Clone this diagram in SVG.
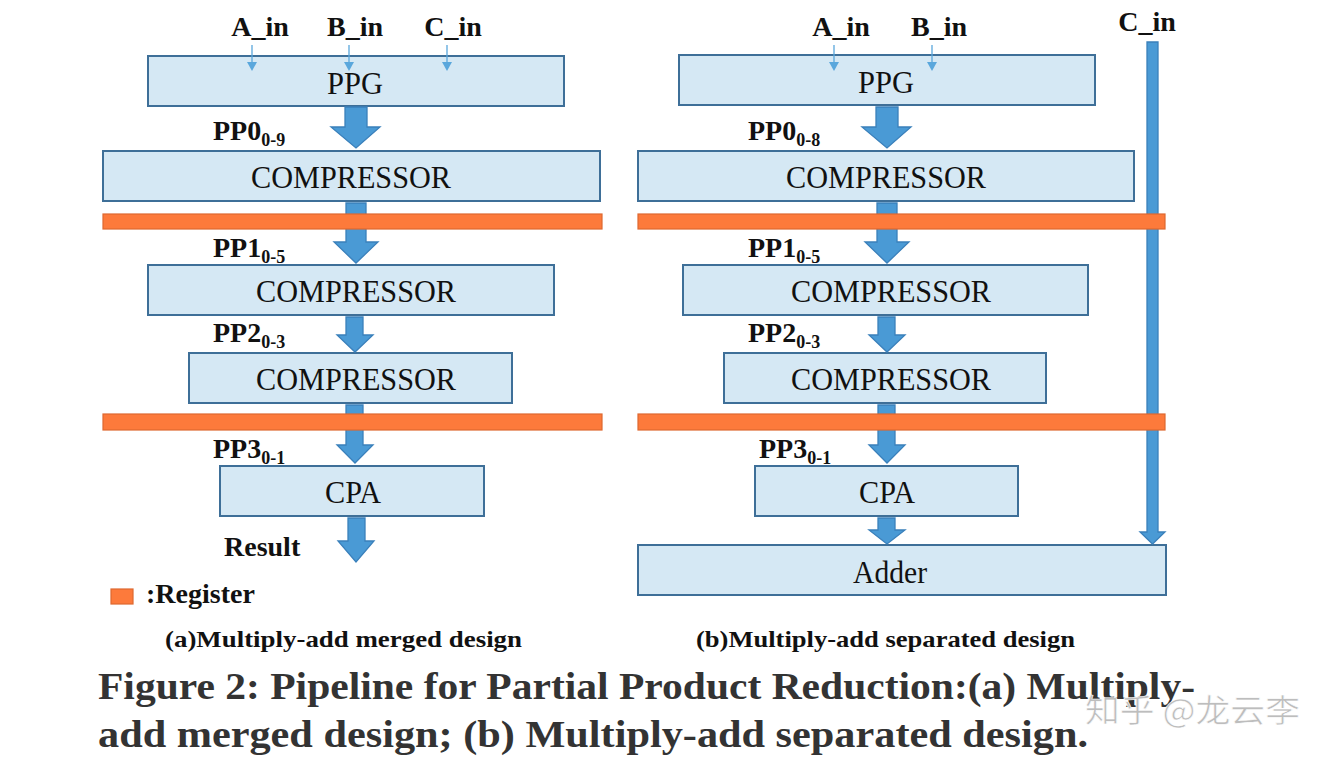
<svg xmlns="http://www.w3.org/2000/svg" width="1334" height="765" viewBox="0 0 1334 765">
<style>
.box{fill:#d5e8f4;stroke:#3e6f98;stroke-width:2}
.reg{fill:#fd7a3b;stroke:#de6830;stroke-width:1.2}
.arr{fill:#4a9ad5;stroke:#3a80bb;stroke-width:1.3}
.thin{stroke:#5aa7dc;stroke-width:1.3;fill:none}
.th{fill:#5aa7dc}
.lbl{font-family:"Liberation Serif","DejaVu Serif",serif;font-weight:bold;font-size:28px;fill:#111}
.in{font-family:"Liberation Serif","DejaVu Serif",serif;font-weight:bold;font-size:28px;fill:#111;text-anchor:middle}
.bt{font-family:"Liberation Serif","Times New Roman",serif;font-size:31px;fill:#111;text-anchor:middle}
.cap{font-family:"Liberation Serif","DejaVu Serif",serif;font-weight:bold;font-size:23px;fill:#111}
.fig{font-family:"Liberation Serif","DejaVu Serif",serif;font-weight:bold;font-size:38px;fill:#333}
</style>
<rect width="1334" height="765" fill="#fff"/>

<!-- Panel (a) -->
<g id="a-inputs">
<text class="in" x="260" y="36">A_in</text>
<text class="in" x="355" y="36">B_in</text>
<text class="in" x="453" y="36">C_in</text>
</g>
<g id="a-ppg"><rect class="box" x="148" y="56" width="416" height="50"/><text class="bt" x="355" y="94" textLength="56" lengthAdjust="spacingAndGlyphs">PPG</text></g>
<g id="a-comp1"><rect class="box" x="103" y="151" width="497" height="50"/><text class="bt" x="351" y="188" textLength="200" lengthAdjust="spacingAndGlyphs">COMPRESSOR</text></g>
<g id="a-comp2"><rect class="box" x="148" y="265" width="406" height="50"/><text class="bt" x="356" y="302" textLength="200" lengthAdjust="spacingAndGlyphs">COMPRESSOR</text></g>
<g id="a-comp3"><rect class="box" x="189" y="353" width="323" height="50"/><text class="bt" x="356" y="390" textLength="200" lengthAdjust="spacingAndGlyphs">COMPRESSOR</text></g>
<g id="a-cpa"><rect class="box" x="220" y="466" width="264" height="50"/><text class="bt" x="353" y="503" textLength="56" lengthAdjust="spacingAndGlyphs">CPA</text></g>

<g id="b-ppg"><rect class="box" x="679" y="55" width="416" height="50"/><text class="bt" x="886" y="93" textLength="56" lengthAdjust="spacingAndGlyphs">PPG</text></g>
<g id="b-comp1"><rect class="box" x="638" y="151" width="496" height="50"/><text class="bt" x="886" y="188" textLength="200" lengthAdjust="spacingAndGlyphs">COMPRESSOR</text></g>
<g id="b-comp2"><rect class="box" x="683" y="265" width="405" height="50"/><text class="bt" x="891" y="302" textLength="200" lengthAdjust="spacingAndGlyphs">COMPRESSOR</text></g>
<g id="b-comp3"><rect class="box" x="724" y="353" width="322" height="50"/><text class="bt" x="891" y="390" textLength="200" lengthAdjust="spacingAndGlyphs">COMPRESSOR</text></g>
<g id="b-cpa"><rect class="box" x="755" y="466" width="263" height="50"/><text class="bt" x="887" y="503" textLength="56" lengthAdjust="spacingAndGlyphs">CPA</text></g>
<g id="b-adder"><rect class="box" x="638" y="545" width="528" height="50"/><text class="bt" x="890" y="583" textLength="74" lengthAdjust="spacingAndGlyphs">Adder</text></g>

<!-- Panel (b) inputs -->
<g id="b-inputs">
<text class="in" x="841" y="36">A_in</text>
<text class="in" x="939" y="36">B_in</text>
<text class="in" x="1147" y="31">C_in</text>
</g>

<g id="connectors">
<line class="thin" x1="252" y1="45" x2="252" y2="64"/><path class="th" d="M247,62 L257,62 L252,71 Z"/>
<line class="thin" x1="349" y1="45" x2="349" y2="64"/><path class="th" d="M344,62 L354,62 L349,71 Z"/>
<line class="thin" x1="447" y1="45" x2="447" y2="64"/><path class="th" d="M442,62 L452,62 L447,71 Z"/>
<path class="arr" d="M345,107 H367 V127 H380 L356,148 L331,127 H345 Z"/>
<path class="arr" d="M346,203 H366 V242 H378 L356,263 L334,242 H346 Z"/>
<path class="arr" d="M346,317 H363 V335 H373 L355,352 L337,335 H346 Z"/>
<path class="arr" d="M346,405 H363 V445 H373 L355,463 L337,445 H346 Z"/>
<path class="arr" d="M348,518 H365 V541 H374 L356,562 L338,541 H348 Z"/>
<line class="thin" x1="834" y1="45" x2="834" y2="64"/><path class="th" d="M829,62 L839,62 L834,71 Z"/>
<line class="thin" x1="932" y1="45" x2="932" y2="64"/><path class="th" d="M927,62 L937,62 L932,71 Z"/>
<path class="arr" d="M876,107 H898 V127 H911 L887,148 L862,127 H876 Z"/>
<path class="arr" d="M877,203 H897 V242 H909 L887,263 L865,242 H877 Z"/>
<path class="arr" d="M878,317 H895 V335 H905 L887,352 L869,335 H878 Z"/>
<path class="arr" d="M878,405 H895 V445 H905 L887,463 L869,445 H878 Z"/>
<path class="arr" d="M878,518 H895 V530 H905 L887,544 L869,530 H878 Z"/>
<path class="arr" d="M1147,42 H1158 V532 H1165 L1152.5,544 L1140,532 H1147 Z"/>
</g>

<g id="a-reg1"><rect class="reg" x="103" y="214" width="499" height="15"/></g>
<g id="a-reg2"><rect class="reg" x="103" y="414" width="499" height="16"/></g>
<g id="b-reg1"><rect class="reg" x="638" y="214" width="527" height="15"/></g>
<g id="b-reg2"><rect class="reg" x="638" y="414" width="527" height="16"/></g>

<g id="a-labels">
<text class="lbl" x="213" y="140">PP0<tspan font-size="18" dy="6">0-9</tspan></text>
<text class="lbl" x="213" y="257">PP1<tspan font-size="18" dy="6">0-5</tspan></text>
<text class="lbl" x="213" y="342">PP2<tspan font-size="18" dy="6">0-3</tspan></text>
<text class="lbl" x="213" y="458">PP3<tspan font-size="18" dy="6">0-1</tspan></text>
<text class="lbl" x="224" y="556">Result</text>
</g>
<g id="b-labels">
<text class="lbl" x="748" y="140">PP0<tspan font-size="18" dy="6">0-8</tspan></text>
<text class="lbl" x="748" y="257">PP1<tspan font-size="18" dy="6">0-5</tspan></text>
<text class="lbl" x="748" y="342">PP2<tspan font-size="18" dy="6">0-3</tspan></text>
<text class="lbl" x="759" y="458">PP3<tspan font-size="18" dy="6">0-1</tspan></text>
</g>

<g id="legend">
<rect class="reg" x="111" y="589" width="22" height="15"/>
<text class="lbl" x="146" y="603">:Register</text>
</g>
<g id="a-caption"><text class="cap" x="165" y="647" textLength="357" lengthAdjust="spacingAndGlyphs">(a)Multiply-add merged design</text></g>
<g id="b-caption"><text class="cap" x="696" y="647" textLength="379" lengthAdjust="spacingAndGlyphs">(b)Multiply-add separated design</text></g>

<g id="figure-caption">
<text class="fig" x="98" y="699" textLength="1097" lengthAdjust="spacingAndGlyphs">Figure 2: Pipeline for Partial Product Reduction:(a) Multiply-</text>
<text class="fig" x="98" y="747" textLength="990" lengthAdjust="spacingAndGlyphs">add merged design; (b) Multiply-add separated design.</text>
</g>
<g id="watermark">
<text x="1085" y="722" font-family="'Noto Sans CJK SC',sans-serif" font-size="32" fill="#bdbdbd" stroke="#ffffff" stroke-width="0.6" textLength="215" lengthAdjust="spacingAndGlyphs">知乎 @龙云李</text>
</g>
</svg>
